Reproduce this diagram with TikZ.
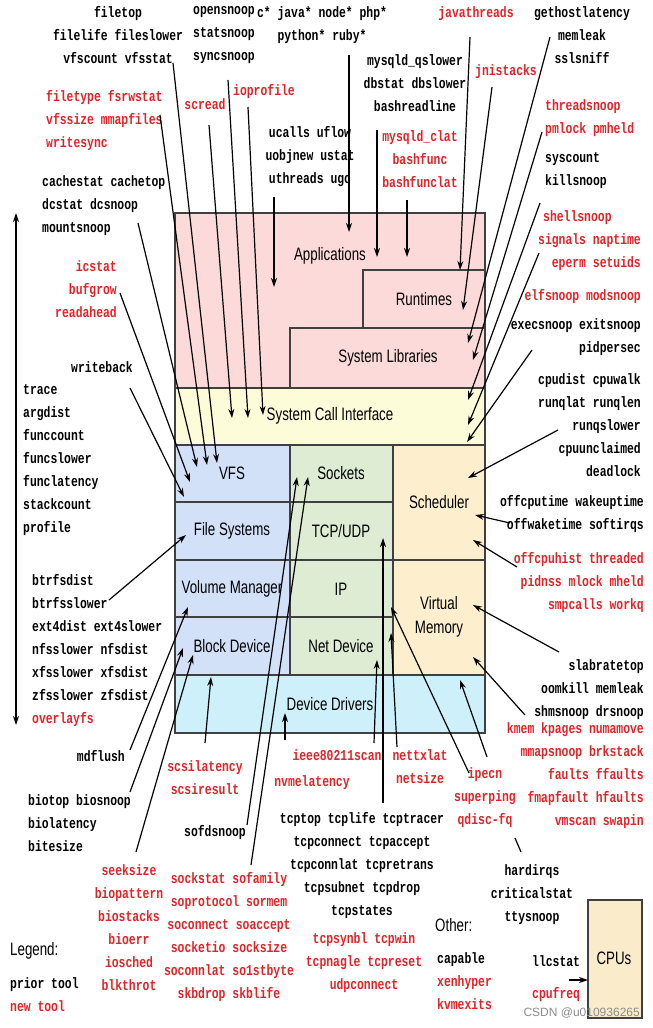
\documentclass[tikz,border=0pt]{standalone}
\usepackage{fontspec}
\setmainfont{Liberation Sans}
\newfontfamily\toolfont{Liberation Mono}[FakeStretch=0.76]
\newfontfamily\labfont{Liberation Sans}[FakeStretch=0.74]
\usetikzlibrary{arrows.meta}
\definecolor{newred}{RGB}{222,36,40}
\definecolor{cpink}{RGB}{252,218,218}
\definecolor{cyel}{RGB}{253,252,216}
\definecolor{cblue}{RGB}{210,224,248}
\definecolor{cgreen}{RGB}{222,236,212}
\definecolor{corange}{RGB}{253,239,206}
\definecolor{ccyan}{RGB}{206,240,250}
\definecolor{ccpu}{RGB}{250,236,202}
\begin{document}
\begin{tikzpicture}[x=1pt,y=-1pt,
  tool/.style={font=\toolfont\bfseries\fontsize{15}{23}\selectfont,inner sep=0pt},
  L/.style={tool,anchor=north west,align=left},
  R/.style={tool,anchor=north east,align=right},
  C/.style={tool,anchor=north,align=center},
  new/.style={text=newred},
  box/.style={draw=black!75,line width=1.2pt},
  lab/.style={font=\labfont\fontsize{18}{21}\selectfont,inner sep=0pt,align=center},
  arr/.style={-{Stealth[length=9pt,width=6pt]},line width=1.2pt}]
\useasboundingbox (0,0) rectangle (653,1028);
% boxes
\path[box,fill=cpink] (175,213) rectangle (485,388);
\path[box,fill=cpink] (363,270) rectangle (485,328);
\path[box,fill=cpink] (290,328) rectangle (485,388);
\path[box,fill=cyel] (175,388) rectangle (485,445);
\path[box,fill=cblue] (175,445) rectangle (290,502);
\path[box,fill=cgreen] (290,445) rectangle (393,502);
\path[box,fill=corange] (393,445) rectangle (485,560);
\path[box,fill=cblue] (175,502) rectangle (290,560);
\path[box,fill=cgreen] (290,502) rectangle (393,560);
\path[box,fill=cblue] (175,560) rectangle (290,617);
\path[box,fill=cgreen] (290,560) rectangle (393,617);
\path[box,fill=corange] (393,560) rectangle (485,675);
\path[box,fill=cblue] (175,617) rectangle (290,675);
\path[box,fill=cgreen] (290,617) rectangle (393,675);
\path[box,fill=ccyan] (175,675) rectangle (485,733);
\path[box,fill=ccpu] (588,900) rectangle (642,1018);
\node[lab] (apps) at (330,256) {Applications};
\node[lab] (runt) at (424,299) {Runtimes};
\node[lab] (syslib) at (388,358) {System Libraries};
\node[lab] (sci) at (330,416) {System Call Interface};
\node[lab] (vfs) at (232,473) {VFS};
\node[lab] (sock) at (341,473) {Sockets};
\node[lab] (sched) at (439,502) {Scheduler};
\node[lab] (fs) at (232,531) {File Systems};
\node[lab] (tcp) at (341,531) {TCP/UDP};
\node[lab] (vm) at (232,589) {Volume Manager};
\node[lab] (ip) at (341,589) {IP};
\node[lab] (vmem) at (439,617) {Virtual\\[3pt]Memory};
\node[lab] (blk) at (232,646) {Block Device};
\node[lab] (net) at (341,646) {Net Device};
\node[lab] (dd) at (330,704) {Device Drivers};
\node[lab] (cpu) at (614,958) {CPUs};
% texts
\node[C] at (118,6) {filetop\\filelife fileslower\\vfscount vfsstat};
\node[L] at (193,6) {opensnoop\\statsnoop\\syncsnoop};
\node[C] at (322,6) {c* java* node* php*\\python* ruby*};
\node[C,new] at (476,6) {javathreads};
\node[C] at (582,6) {gethostlatency\\memleak\\sslsniff};
\node[C] at (415,54) {mysqld\_qslower\\dbstat dbslower\\bashreadline};
\node[C,new] at (506,64) {jnistacks};
\node[L,new] at (46,90) {filetype fsrwstat\\vfssize mmapfiles\\writesync};
\node[C,new] at (205,98) {scread};
\node[C,new] at (264,84) {ioprofile};
\node[C] at (310,126) {ucalls uflow\\uobjnew ustat\\uthreads ugc};
\node[C,new] at (420,130) {mysqld\_clat\\bashfunc\\bashfunclat};
\node[L,new] at (545,99) {threadsnoop\\pmlock pmheld};
\node[L] at (545,152) {syscount\\killsnoop};
\node[L] at (42,175) {cachestat cachetop\\dcstat dcsnoop\\mountsnoop};
\node[L,new] at (543,210) {shellsnoop};
\node[R,new] at (641,233) {signals naptime\\eperm setuids};
\node[R,new] at (117,260) {icstat\\bufgrow\\readahead};
\node[R,new] at (641,289) {elfsnoop modsnoop};
\node[R] at (641,318) {execsnoop exitsnoop\\pidpersec};
\node[R] at (133,361) {writeback};
\node[R] at (641,373) {cpudist cpuwalk\\runqlat runqlen\\runqslower\\cpuunclaimed\\deadlock};
\node[L] at (23,384) {trace\\argdist\\funccount\\funcslower\\funclatency\\stackcount\\profile};
\node[R] at (644,495) {offcputime wakeuptime\\offwaketime softirqs};
\node[R,new] at (644,552) {offcpuhist threaded\\pidnss mlock mheld\\smpcalls workq};
\node[L] at (32,574) {btrfsdist\\btrfsslower\\ext4dist ext4slower\\nfsslower nfsdist\\xfsslower xfsdist\\zfsslower zfsdist};
\node[L,new] at (32,712) {overlayfs};
\node[R] at (644,659) {slabratetop\\oomkill memleak\\shmsnoop drsnoop};
\node[R] at (125,750) {mdflush};
\node[C,new] at (205,760) {scsilatency\\scsiresult};
\node[C,new] at (337,749) {ieee80211scan};
\node[C,new] at (312,775) {nvmelatency};
\node[C,new] at (420,749) {nettxlat\\netsize};
\node[C,new] at (485,767) {ipecn\\superping\\qdisc-fq};
\node[R,new] at (644,722) {kmem kpages numamove\\mmapsnoop brkstack\\faults ffaults\\fmapfault hfaults\\vmscan swapin};
\node[L] at (28,794) {biotop biosnoop\\biolatency\\bitesize};
\node[C] at (215,825) {sofdsnoop};
\node[C] at (362,812) {tcptop tcplife tcptracer\\tcpconnect tcpaccept\\tcpconnlat tcpretrans\\tcpsubnet tcpdrop\\tcpstates};
\node[C,new] at (129,864) {seeksize\\biopattern\\biostacks\\bioerr\\iosched\\blkthrot};
\node[C,new] at (229,872) {sockstat sofamily\\soprotocol sormem\\soconnect soaccept\\socketio socksize\\soconnlat so1stbyte\\skbdrop skblife};
\node[C,new] at (364,932) {tcpsynbl tcpwin\\tcpnagle tcpreset\\udpconnect};
\node[C] at (532,864) {hardirqs\\criticalstat\\ttysnoop};
\node[lab,anchor=north west] at (435,918) {Other:};
\node[L] at (437,952) {capable};
\node[L,new] at (437,975) {xenhyper\\kvmexits};
\node[lab,anchor=north west] at (10,942) {Legend:};
\node[L] at (10,977) {prior tool};
\node[L,new] at (10,1000) {new tool};
\node[L] at (532,955) {llcstat};
\node[L,new] at (532,987) {cpufreq};
\node[font=\fontsize{12}{12}\selectfont,text=black!45,anchor=south east,inner sep=0pt] at (640,1018) {CSDN @u010936265};
% arrows
\draw[arr,{Stealth[length=9pt,width=6pt]}-{Stealth[length=9pt,width=6pt]}] (16,213) -- (16,725);
\draw[arr] (173,63) -- (217,463);
\draw[arr] (160,115) -- (207,465);
\draw[arr] (138,223) -- (197,467);
\draw[arr] (120,293) -- (190,482);
\draw[arr] (130,388) -- (184,497);
\draw[arr] (209,125) -- (232,418);
\draw[arr] (228,80) -- (248,418);
\draw[arr] (248,107) -- (263,415);
\draw[arr] (274,197) -- (274,287);
\draw[arr] (349,55) -- (349,232);
\draw[arr] (377,130) -- (377,257);
\draw[arr] (407,200) -- (407,257);
\draw[arr] (470,37) -- (460,270);
\draw[arr] (492,87) -- (463,310);
\draw[arr] (550,37) -- (468,343);
\draw[arr] (542,132) -- (473,360);
\draw[arr] (540,203) -- (468,400);
\draw[arr] (539,253) -- (468,425);
\draw[arr] (532,350) -- (467,442);
\draw[arr] (558,430) -- (468,478);
\draw[arr] (510,523) -- (475,515);
\draw[arr] (517,567) -- (473,540);
\draw[arr] (559,652) -- (473,605);
\draw[arr] (525,715) -- (473,657);
\draw[line width=1.2pt] (521,852) -- (515,838);
\draw[arr] (487,757) -- (460,680);
\draw[arr] (469,773) -- (391,607);
\draw[arr] (397,747) -- (391,633);
\draw[arr] (383,803) -- (383,538);
\draw[arr] (374,743) -- (377,660);
\draw[arr] (285,740) -- (285,713);
\draw[arr] (205,743) -- (211,677);
\draw[arr] (136,852) -- (193,655);
\draw[arr] (130,792) -- (183,648);
\draw[arr] (130,750) -- (188,607);
\draw[arr] (109,600) -- (186,535);
\draw[arr] (247,825) -- (297,477);
\draw[arr] (251,865) -- (308,477);
\draw[arr] (569,980) -- (588,980);
\end{tikzpicture}
\end{document}
